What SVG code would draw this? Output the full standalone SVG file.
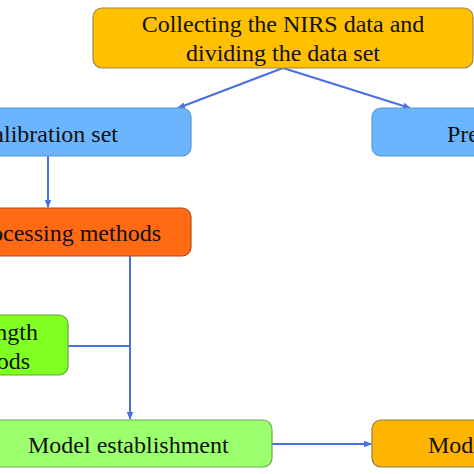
<svg xmlns="http://www.w3.org/2000/svg" width="474" height="474" viewBox="0 0 474 474">
<defs>
<style>
.t{font-family:"Liberation Serif","Times New Roman",serif;font-size:24px;fill:#111;}
.box{stroke-width:1.2;}
.c{stroke:#4a6fe3;stroke-width:2;fill:none;}
</style>
<marker id="ah" markerWidth="8" markerHeight="8" refX="7" refY="4" orient="auto" markerUnits="userSpaceOnUse">
<path d="M0,0.8 L8,4 L0,7.2 Z" fill="#4a6fe3"/>
</marker>
</defs>
<rect width="474" height="474" fill="#fff"/>
<g id="connectors">
<line class="c" x1="283" y1="68" x2="178" y2="108" marker-end="url(#ah)"/>
<line class="c" x1="283" y1="68" x2="410" y2="108" marker-end="url(#ah)"/>
<line class="c" x1="48" y1="156" x2="48" y2="207" marker-end="url(#ah)"/>
<line class="c" x1="130" y1="256" x2="130" y2="419" marker-end="url(#ah)"/>
<line class="c" x1="68" y1="346" x2="130" y2="346"/>
<line class="c" x1="272" y1="444" x2="371" y2="444" marker-end="url(#ah)"/>
</g>
<g id="collect">
<rect class="box" x="93" y="8" width="380" height="60" rx="9" fill="#ffc000" stroke="#9a8650"/>
<text class="t" x="283" y="32" text-anchor="middle">Collecting the NIRS data and</text>
<text class="t" x="283" y="61" text-anchor="middle">dividing the data set</text>
</g>
<g id="calibration">
<rect class="box" x="-90" y="108" width="281" height="48" rx="9" fill="#6bb5ff" stroke="#5896d8"/>
<text class="t" x="118" y="142" text-anchor="end">Calibration set</text>
</g>
<g id="prediction">
<rect class="box" x="372" y="108" width="200" height="48" rx="9" fill="#6bb5ff" stroke="#5896d8"/>
<text class="t" x="447" y="142">Prediction set</text>
</g>
<g id="preprocessing">
<rect class="box" x="-90" y="208" width="281" height="48" rx="9" fill="#ff6a13" stroke="#b04a18"/>
<text class="t" x="161" y="241" text-anchor="end" fill="#2a1000">Preprocessing methods</text>
</g>
<g id="wavelength">
<rect class="box" x="-90" y="315" width="158" height="60" rx="9" fill="#80ff22" stroke="#5fa830"/>
<text class="t" x="38" y="340" text-anchor="end">Wavelength</text>
<text class="t" x="30" y="369" text-anchor="end">methods</text>
</g>
<g id="establishment">
<rect class="box" x="-30" y="420" width="302" height="47" rx="9" fill="#9cff6e" stroke="#6aac4a"/>
<text class="t" x="28" y="453">Model establishment</text>
</g>
<g id="evaluation">
<rect class="box" x="372" y="420" width="200" height="47" rx="9" fill="#ffb400" stroke="#8a7a50"/>
<text class="t" x="428" y="453">Model evaluation</text>
</g>
</svg>
